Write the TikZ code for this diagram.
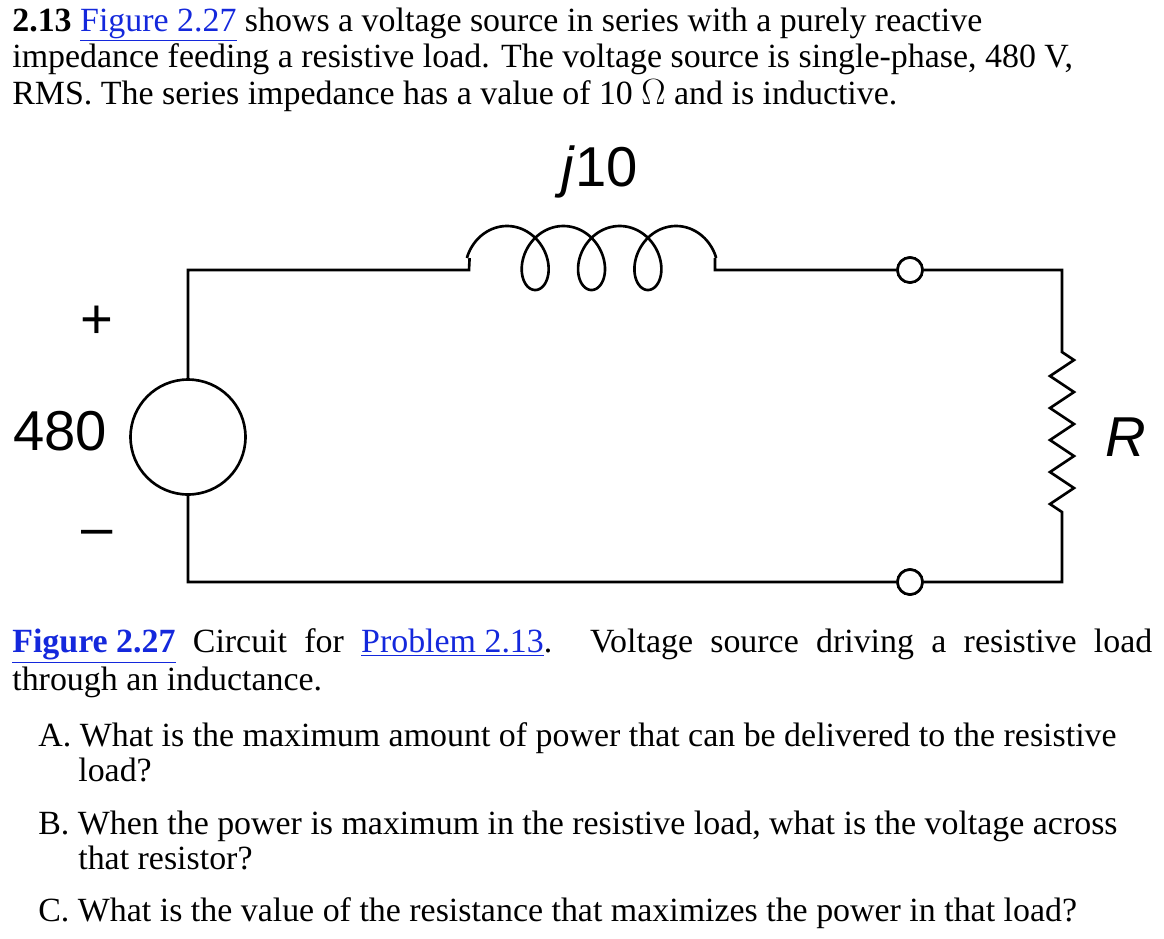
\documentclass[tikz,border=0pt]{standalone}
\usepackage{fontspec}
\setmainfont{Liberation Serif}
\newfontfamily\helv{Liberation Sans}
\definecolor{linkblue}{RGB}{20,40,220}
\newcommand{\lnk}[1]{\textcolor{linkblue}{\underline{#1}}}
\begin{document}
\begin{tikzpicture}[x=0.02cm,y=-0.02cm,
  txt/.style={anchor=base west,inner sep=0pt,font=\fontsize{19.3}{22}\selectfont},
  lab/.style={inner sep=0pt,font=\helv\fontsize{32}{36}\selectfont},
  wire/.style={line width=1.5pt},
  term/.style={circle,draw,line width=1.5pt,minimum size=0.5cm,inner sep=0pt,fill=white}]
\useasboundingbox (0,0) rectangle (1164,938);
% text
\node[txt] (l1) at (12,31) {\textbf{2.13} \lnk{Figure 2.27} shows a voltage source in series with a purely reactive};
\node[txt] (l2) at (12,67) {impedance feeding a resistive load. The voltage source is single-phase, 480 V,};
\node[txt] (l3) at (12,104) {RMS. The series impedance has a value of 10 $\Omega$ and is inductive.};
\node[txt,text width=1140*0.02cm,align=justify] (c1) at (12,652) {\lnk{\textbf{Figure 2.27}} Circuit for \lnk{Problem 2.13}. Voltage source driving a resistive load\linebreak through an inductance.};
\node[txt] (qa) at (38,746) {A. What is the maximum amount of power that can be delivered to the resistive};
\node[txt] (qa2) at (78,781) {load?};
\node[txt] (qb) at (38,834) {B. When the power is maximum in the resistive load, what is the voltage across};
\node[txt] (qb2) at (78,869) {that resistor?};
\node[txt] (qc) at (38,921) {C. What is the value of the resistance that maximizes the power in that load?};
% circuit
\node[circle,draw,line width=1.5pt,minimum size=2.3cm,inner sep=0pt] (src) at (188,437) {};
\coordinate (tl) at (188,270);
\coordinate (bl) at (188,582);
\coordinate (ls) at (469,270);
\coordinate (le) at (715,270);
\node[term] (t1) at (910,270) {};
\node[term] (t2) at (910,582) {};
\coordinate (tr) at (1062,270);
\coordinate (br) at (1062,582);
\coordinate (rs) at (1062,352);
\coordinate (re) at (1062,512);
\draw[wire] (src.north) -- (tl) -- (ls) -- (469.6,258);
\draw[wire,line join=round] plot[domain=-pi/2:6.5*pi,samples=400,variable=\t] ({507+8.97*\t+26*sin(\t r)},{258-32*cos(\t r)});
\draw[wire] (715,258) -- (le) -- (t1) -- (tr) -- (rs)
  -- ++(12,8) -- ++(-24,16) -- ++(24,16) -- ++(-24,16) -- ++(24,16) -- ++(-24,16)
  -- ++(24,16) -- ++(-24,16) -- ++(24,16) -- ++(-24,16) -- ++(12,8) -- (re) -- (br) -- (t2) -- (bl) -- (src.south);
\node[term] at (910,270) {};
\node[term] at (910,582) {};
\node[lab] (j) at (600,172) {\textit{j}10};
\node[lab] (plus) at (97,322) {+};
\node[lab] (v) at (60,431) {480};
\node[lab] (minus) at (97,538) {\textendash};
\node[lab] (r) at (1126,437) {\textit{R}};
\end{tikzpicture}
\end{document}
